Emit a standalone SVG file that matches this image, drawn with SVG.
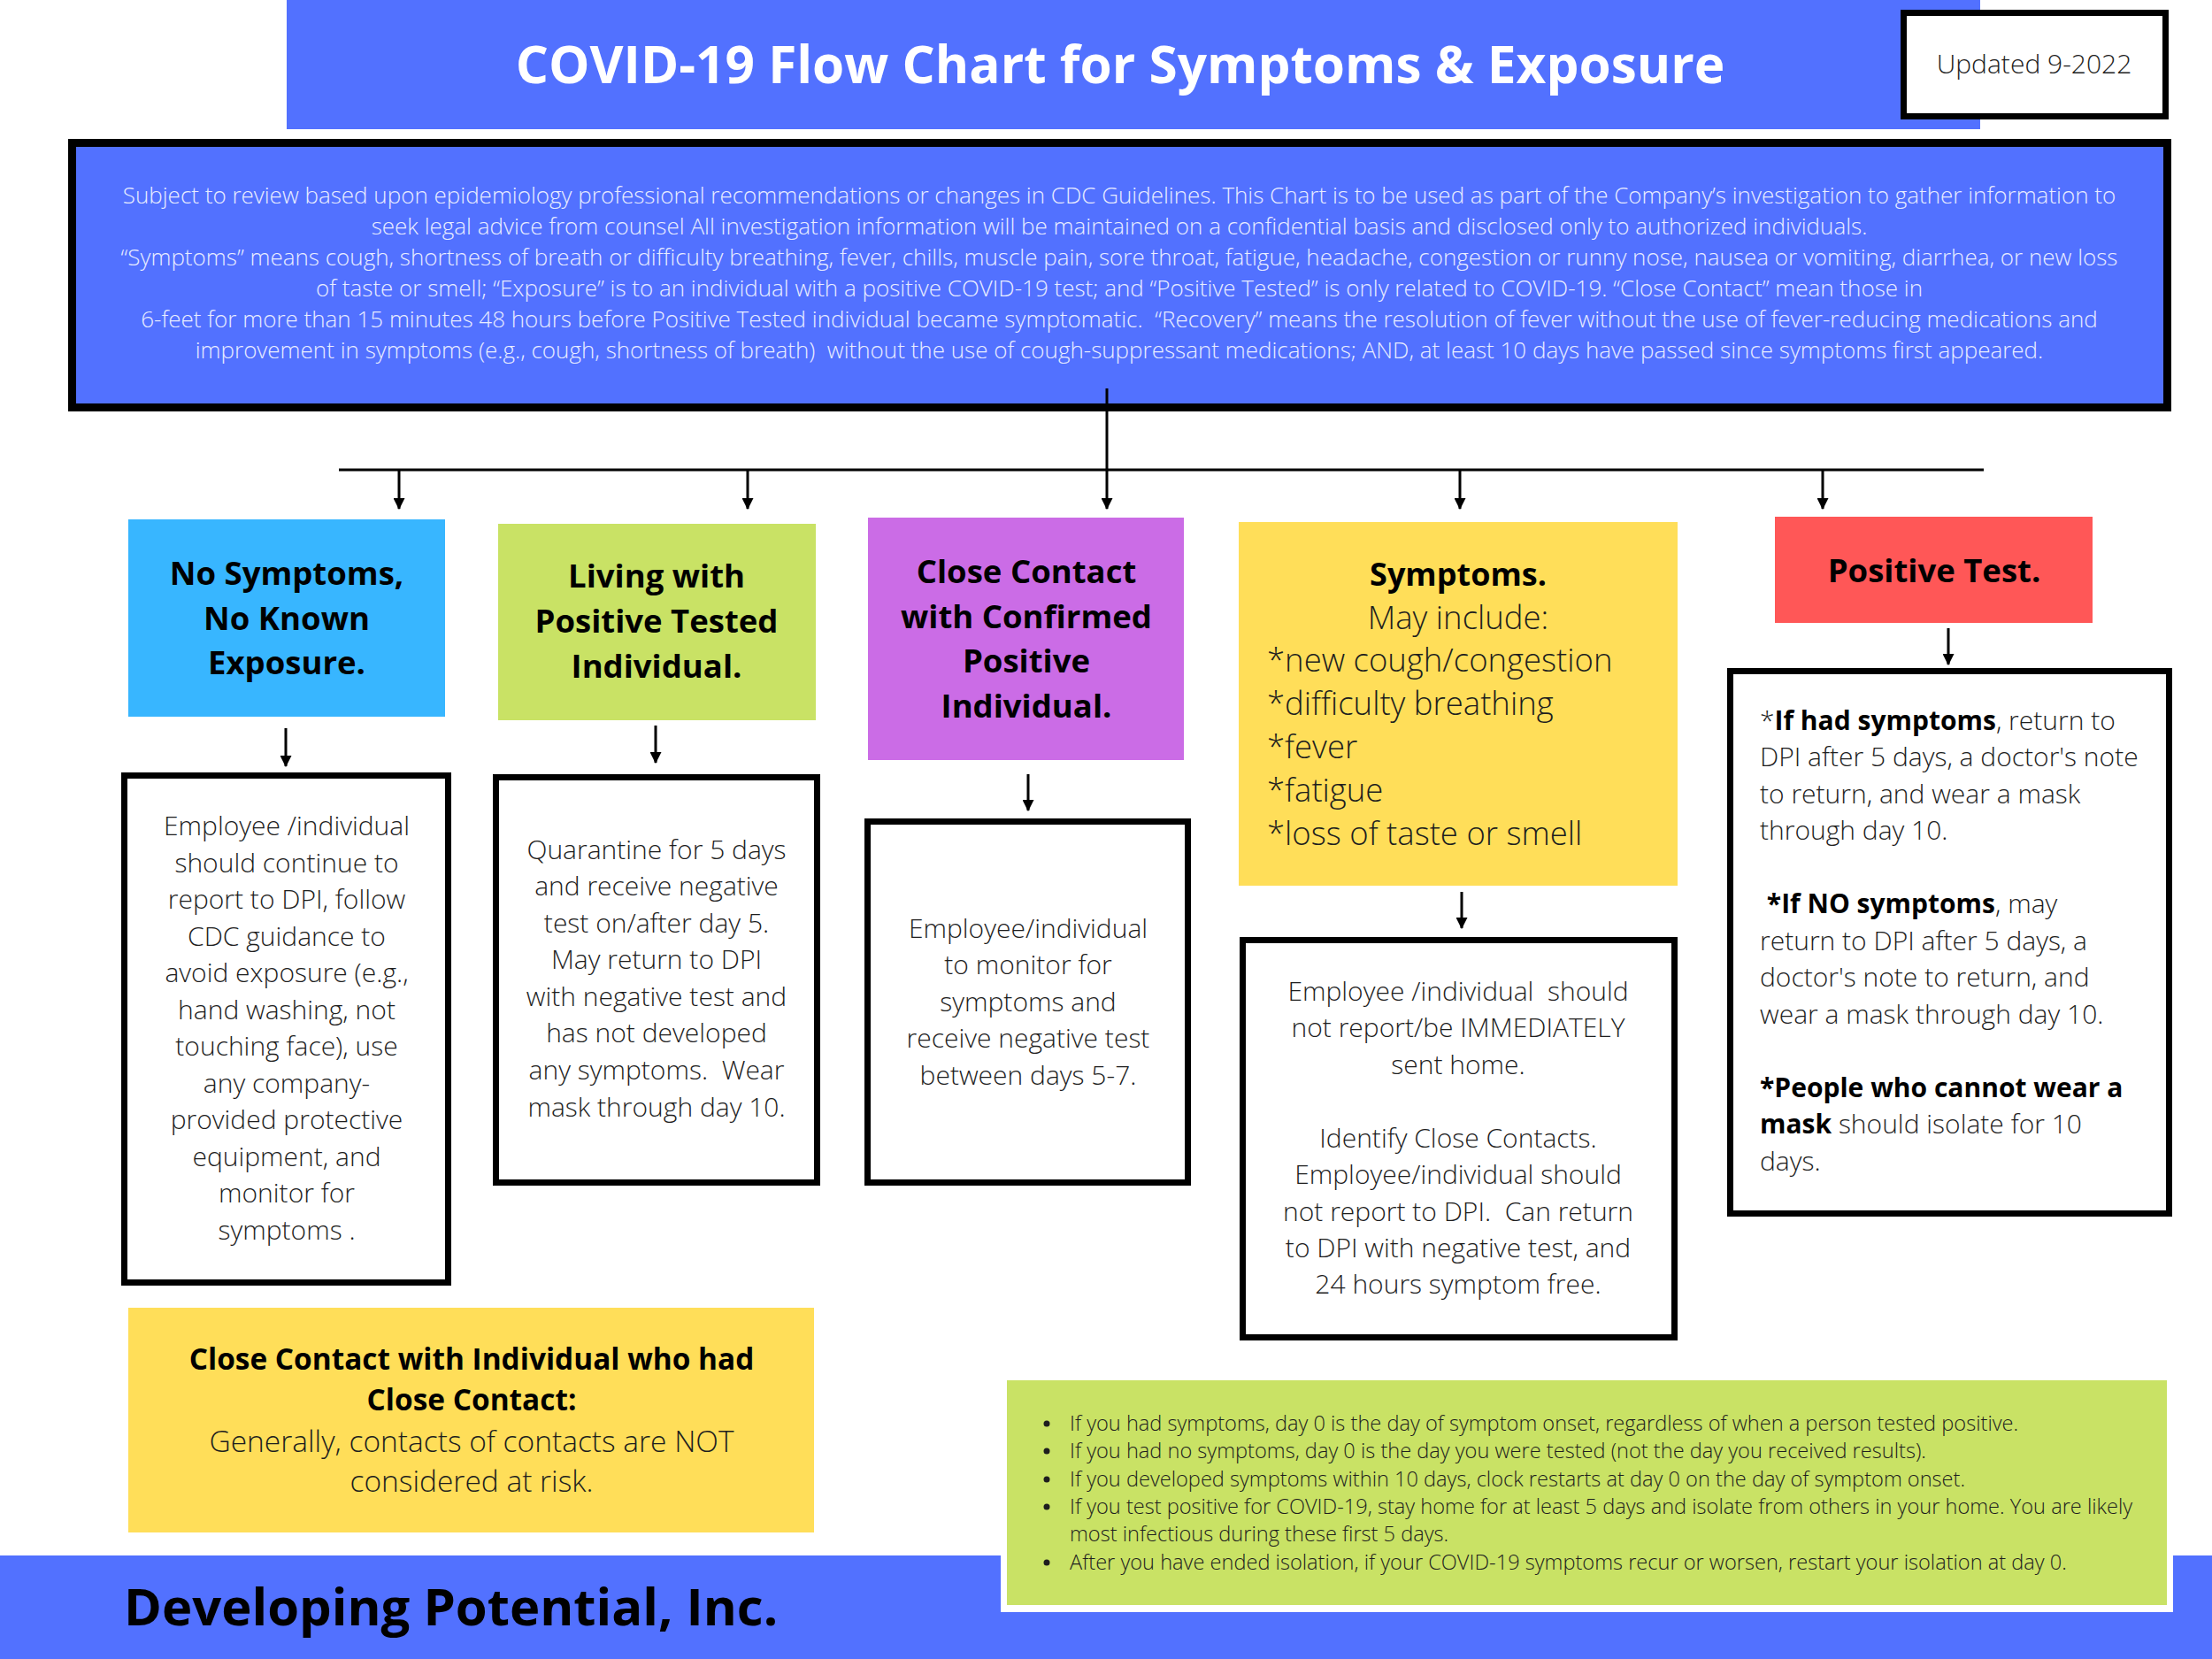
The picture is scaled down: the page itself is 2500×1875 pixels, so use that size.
<svg xmlns="http://www.w3.org/2000/svg" width="2500" height="1875" viewBox="0 0 2500 1875">
<defs>
<style>
.t{font-family:"Open Sans","Liberation Sans",sans-serif}
.lt{font-family:"Open Sans","Liberation Sans",sans-serif;font-weight:300;fill:#1e1e1e}
.bd{font-family:"Open Sans","Liberation Sans",sans-serif;font-weight:700;fill:#000}
.desc{font-family:"Open Sans","Liberation Sans",sans-serif;font-weight:300;fill:#e8ecff;font-size:26px;text-anchor:middle}
.box{fill:#fff;stroke:#000;stroke-width:7}
.c{text-anchor:middle}
.con{stroke:#000;stroke-width:3;fill:none}
.arr{stroke:#000;stroke-width:3;fill:none;marker-end:url(#ah)}
</style>
<marker id="ah" viewBox="0 0 12 12" refX="11" refY="6" markerWidth="13" markerHeight="13" orient="auto" markerUnits="userSpaceOnUse">
<path d="M0,0 L12,6 L0,12 z" fill="#000"/>
</marker>
</defs>
<rect width="2500" height="1875" fill="#fff"/>

<g id="title">
<rect x="324" y="0" width="1914" height="146" fill="#5271FF"/>
<text class="bd c" x="1266" y="94" font-size="58.5" style="fill:#fff">COVID-19 Flow Chart for Symptoms &amp; Exposure</text>
</g>

<g id="updated">
<rect x="2151.5" y="14.5" width="296" height="117" fill="#fff" stroke="#000" stroke-width="7"/>
<text class="lt c" x="2299" y="83" font-size="30">Updated 9-2022</text>
</g>

<g id="description">
<rect x="81.5" y="161.5" width="2368" height="299" fill="#5271FF" stroke="#000" stroke-width="9"/>
<text class="desc" x="1265" y="230">Subject to review based upon epidemiology professional recommendations or changes in CDC Guidelines. This Chart is to be used as part of the Company’s investigation to gather information to</text>
<text class="desc" x="1265" y="265">seek legal advice from counsel All investigation information will be maintained on a confidential basis and disclosed only to authorized individuals.</text>
<text class="desc" x="1265" y="300">“Symptoms” means cough, shortness of breath or difficulty breathing, fever, chills, muscle pain, sore throat, fatigue, headache, congestion or runny nose, nausea or vomiting, diarrhea, or new loss</text>
<text class="desc" x="1265" y="335">of taste or smell; “Exposure” is to an individual with a positive COVID-19 test; and “Positive Tested” is only related to COVID-19. “Close Contact” mean those in</text>
<text class="desc" x="1265" y="370" xml:space="preserve">6-feet for more than 15 minutes 48 hours before Positive Tested individual became symptomatic.  “Recovery” means the resolution of fever without the use of fever-reducing medications and</text>
<text class="desc" x="1265" y="405" xml:space="preserve">improvement in symptoms (e.g., cough, shortness of breath)  without the use of cough-suppressant medications; AND, at least 10 days have passed since symptoms first appeared.</text>
</g>

<g id="connectors">
<path class="con" d="M383 531 H2242"/>
<path class="arr" d="M1251 439 V575"/>
<path class="arr" d="M451 531 V575"/>
<path class="arr" d="M845 531 V575"/>
<path class="arr" d="M1650 531 V575"/>
<path class="arr" d="M2060 531 V575"/>
<path class="arr" d="M323 823 V866"/>
<path class="arr" d="M741 820 V862"/>
<path class="arr" d="M1162 875 V916"/>
<path class="arr" d="M1652 1008 V1049"/>
<path class="arr" d="M2202 710 V751"/>
</g>

<g id="h-no-symptoms">
<rect x="145" y="587" width="358" height="223" fill="#38B6FF"/>
<text class="bd c" font-size="36.5"><tspan x="324" y="661">No Symptoms,</tspan><tspan x="324" y="712">No Known</tspan><tspan x="324" y="762">Exposure.</tspan></text>
</g>

<g id="h-living">
<rect x="563" y="592" width="359" height="222" fill="#C9E265"/>
<text class="bd c" font-size="36.5"><tspan x="742" y="664">Living with</tspan><tspan x="742" y="715">Positive Tested</tspan><tspan x="742" y="766">Individual.</tspan></text>
</g>

<g id="h-close-contact">
<rect x="981" y="585" width="357" height="274" fill="#CB6CE6"/>
<text class="bd c" font-size="36.5"><tspan x="1160" y="659">Close Contact</tspan><tspan x="1160" y="710">with Confirmed</tspan><tspan x="1160" y="760">Positive</tspan><tspan x="1160" y="811">Individual.</tspan></text>
</g>

<g id="h-symptoms">
<rect x="1400" y="590" width="496" height="411" fill="#FFDE59"/>
<text class="bd c" x="1648" y="662" font-size="36">Symptoms.</text>
<text class="lt c" x="1648" y="711" font-size="36.5">May include:</text>
<text class="lt" font-size="36.5"><tspan x="1432" y="759">*new cough/congestion</tspan><tspan x="1432" y="808">*difficulty breathing</tspan><tspan x="1432" y="857">*fever</tspan><tspan x="1432" y="906">*fatigue</tspan><tspan x="1432" y="955">*loss of taste or smell</tspan></text>
</g>

<g id="h-positive">
<rect x="2006" y="584" width="359" height="120" fill="#FF5757"/>
<text class="bd c" x="2186" y="658" font-size="36.5">Positive Test.</text>
</g>

<g id="d-no-symptoms">
<rect class="box" x="140.5" y="876.5" width="366" height="573"/>
<text class="lt c" font-size="30"><tspan x="324" y="944">Employee /individual</tspan><tspan x="324" y="986">should continue to</tspan><tspan x="324" y="1027">report to DPI, follow</tspan><tspan x="324" y="1069">CDC guidance to</tspan><tspan x="324" y="1110">avoid exposure (e.g.,</tspan><tspan x="324" y="1152">hand washing, not</tspan><tspan x="324" y="1193">touching face), use</tspan><tspan x="324" y="1235">any company-</tspan><tspan x="324" y="1276">provided protective</tspan><tspan x="324" y="1318">equipment, and</tspan><tspan x="324" y="1359">monitor for</tspan><tspan x="324" y="1401">symptoms .</tspan></text>
</g>

<g id="d-living">
<rect class="box" x="560.5" y="878.5" width="363" height="458"/>
<text class="lt c" font-size="30" xml:space="preserve"><tspan x="742" y="971">Quarantine for 5 days</tspan><tspan x="742" y="1012">and receive negative</tspan><tspan x="742" y="1054">test on/after day 5.</tspan><tspan x="742" y="1095">May return to DPI</tspan><tspan x="742" y="1137">with negative test and</tspan><tspan x="742" y="1178">has not developed</tspan><tspan x="742" y="1220">any symptoms.  Wear</tspan><tspan x="742" y="1262">mask through day 10.</tspan></text>
</g>

<g id="d-close-contact">
<rect class="box" x="980.5" y="928.5" width="362" height="408"/>
<text class="lt c" font-size="30"><tspan x="1162" y="1060">Employee/individual</tspan><tspan x="1162" y="1101">to monitor for</tspan><tspan x="1162" y="1143">symptoms and</tspan><tspan x="1162" y="1184">receive negative test</tspan><tspan x="1162" y="1226">between days 5-7.</tspan></text>
</g>

<g id="d-symptoms">
<rect class="box" x="1404.5" y="1062.5" width="488" height="449"/>
<text class="lt c" font-size="30" xml:space="preserve"><tspan x="1648" y="1131">Employee /individual  should</tspan><tspan x="1648" y="1172">not report/be IMMEDIATELY</tspan><tspan x="1648" y="1214">sent home.</tspan><tspan x="1648" y="1297">Identify Close Contacts.</tspan><tspan x="1648" y="1338">Employee/individual should</tspan><tspan x="1648" y="1380">not report to DPI.  Can return</tspan><tspan x="1648" y="1421">to DPI with negative test, and</tspan><tspan x="1648" y="1462">24 hours symptom free.</tspan></text>
</g>

<g id="d-positive">
<rect class="box" x="1955.5" y="758.5" width="496" height="613"/>
<text class="lt" font-size="30" xml:space="preserve"><tspan x="1989" y="825">*<tspan class="bd">If had symptoms</tspan>, return to</tspan><tspan x="1989" y="866">DPI after 5 days, a doctor's note</tspan><tspan x="1989" y="908">to return, and wear a mask</tspan><tspan x="1989" y="949">through day 10.</tspan><tspan x="1989" y="1032"> <tspan class="bd">*If NO symptoms</tspan>, may</tspan><tspan x="1989" y="1074">return to DPI after 5 days, a</tspan><tspan x="1989" y="1115">doctor's note to return, and</tspan><tspan x="1989" y="1157">wear a mask through day 10.</tspan><tspan x="1989" y="1240" class="bd">*People who cannot wear a</tspan><tspan x="1989" y="1281"><tspan class="bd">mask</tspan> should isolate for 10</tspan><tspan x="1989" y="1323">days.</tspan></text>
</g>

<g id="close-contact-of-contact">
<rect x="145" y="1478" width="775" height="254" fill="#FFDE59"/>
<text class="bd c" font-size="33.4"><tspan x="533" y="1548">Close Contact with Individual who had</tspan><tspan x="533" y="1594">Close Contact:</tspan></text>
<text class="lt c" font-size="33.5"><tspan x="533" y="1641">Generally, contacts of contacts are NOT</tspan><tspan x="533" y="1686">considered at risk.</tspan></text>
</g>

<g id="footer">
<rect x="0" y="1758" width="2500" height="117" fill="#5271FF"/>
<text class="bd" x="140" y="1837" font-size="58">Developing Potential, Inc.</text>
</g>

<g id="notes">
<rect x="1131" y="1553" width="1325" height="269" fill="#fff"/>
<rect x="1138" y="1560" width="1311" height="254" fill="#C9E265"/>
<g fill="#1e1e1e">
<circle cx="1183" cy="1609" r="3.5"/>
<circle cx="1183" cy="1640" r="3.5"/>
<circle cx="1183" cy="1672" r="3.5"/>
<circle cx="1183" cy="1703" r="3.5"/>
<circle cx="1183" cy="1766" r="3.5"/>
</g>
<text class="lt" font-size="23.6"><tspan x="1209" y="1617">If you had symptoms, day 0 is the day of symptom onset, regardless of when a person tested positive.</tspan><tspan x="1209" y="1648">If you had no symptoms, day 0 is the day you were tested (not the day you received results).</tspan><tspan x="1209" y="1680">If you developed symptoms within 10 days, clock restarts at day 0 on the day of symptom onset.</tspan><tspan x="1209" y="1711">If you test positive for COVID-19, stay home for at least 5 days and isolate from others in your home. You are likely</tspan><tspan x="1209" y="1742">most infectious during these first 5 days.</tspan><tspan x="1209" y="1774">After you have ended isolation, if your COVID-19 symptoms recur or worsen, restart your isolation at day 0.</tspan></text>
</g>
</svg>
